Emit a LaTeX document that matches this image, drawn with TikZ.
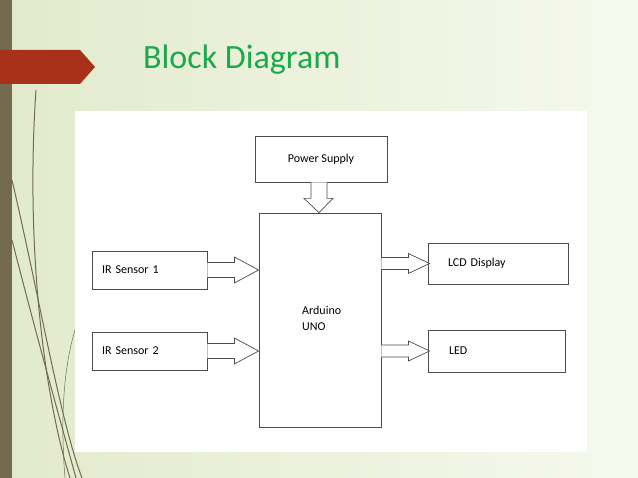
\documentclass[tikz,border=0pt]{standalone}
\usepackage{fontspec}
\setmainfont{Carlito}
\usetikzlibrary{calc}
\definecolor{bgA}{RGB}{226,234,204}
\definecolor{bgB}{RGB}{246,249,238}
\definecolor{barc}{RGB}{115,106,79}
\definecolor{redc}{RGB}{168,49,26}
\definecolor{titlec}{RGB}{27,169,76}
\begin{document}
\begin{tikzpicture}[x=1pt,y=-1pt,
  blk/.style={draw=black!70,line width=0.8pt,fill=white,inner sep=0pt,font=\fontsize{12}{14}\selectfont},
  fat/.style={draw=black!70,line width=0.7pt,fill=white}]
\useasboundingbox (0,0) rectangle (638,478);
\fill[left color=bgA, right color=bgB] (0,0) rectangle (638,478);
\fill[barc] (0,0) rectangle (12,478);
% decorative curves
\begin{scope}[draw=barc,line width=1pt]
\draw (36,90) .. controls (25,250) and (45,400) .. (70,478);
\draw (12,180) .. controls (40,300) and (60,420) .. (82,478);
\draw (12,240) .. controls (35,330) and (60,420) .. (76,478);
\draw[line width=0.5pt] (75,330) .. controls (60,380) and (62,440) .. (65,478);
\end{scope}
\fill[redc] (0,50) -- (80,50) -- (95,67) -- (80,84) -- (0,84) -- cycle;
\node[anchor=base west,text=titlec,font=\fontsize{34}{40}\selectfont,inner sep=0pt] (title) at (143,69) {Block Diagram};
\fill[white] (75,111) rectangle (587,452);
\node[blk,minimum width=132,minimum height=46] (ps) at (321,159) {Power Supply};
\node[blk,minimum width=122,minimum height=214] (ard) at (320,320) {};
\node[font=\fontsize{12}{16}\selectfont,align=left,anchor=west,inner sep=0pt] (ardt) at (302,318) {Arduino\\UNO};
\node[blk,minimum width=115,minimum height=38,text width=95] (ir1) at (149.5,270) {IR Sensor 1};
\node[blk,minimum width=115,minimum height=38,text width=95] (ir2) at (149.5,351) {IR Sensor 2};
\node[blk,minimum width=140,minimum height=41,text width=100] (lcd) at (498,263.5) {LCD Display};
\node[blk,minimum width=137,minimum height=42,text width=95] (led) at (496.5,351) {LED};
% fat arrows
\foreach \n in {ir1,ir2}{
\draw[fat] ($(\n.east)+(0,-7.5)$) -- ($(\n.east)+(27,-7.5)$) -- ($(\n.east)+(27,-13)$) -- ($(ard.west|-\n.east)$) -- ($(\n.east)+(27,13)$) -- ($(\n.east)+(27,7.5)$) -- ($(\n.east)+(0,7.5)$);}
\foreach \n in {lcd,led}{
\draw[fat] ($(ard.east|-\n.west)+(0,-6)$) -- ($(ard.east|-\n.west)+(27,-6)$) -- ($(ard.east|-\n.west)+(27,-10)$) -- ($(\n.west)+(2,0)$) -- ($(ard.east|-\n.west)+(27,10)$) -- ($(ard.east|-\n.west)+(27,6)$) -- ($(ard.east|-\n.west)+(0,6)$);}
\draw[fat] ($(ps.south)+(-10,0)$) -- ($(ps.south)+(-10,16)$) -- ($(ps.south)+(-17,16)$) -- ($(ard.north)+(-1,0)$) -- ($(ps.south)+(12,16)$) -- ($(ps.south)+(6,16)$) -- ($(ps.south)+(6,0)$);
\end{tikzpicture}
\end{document}
